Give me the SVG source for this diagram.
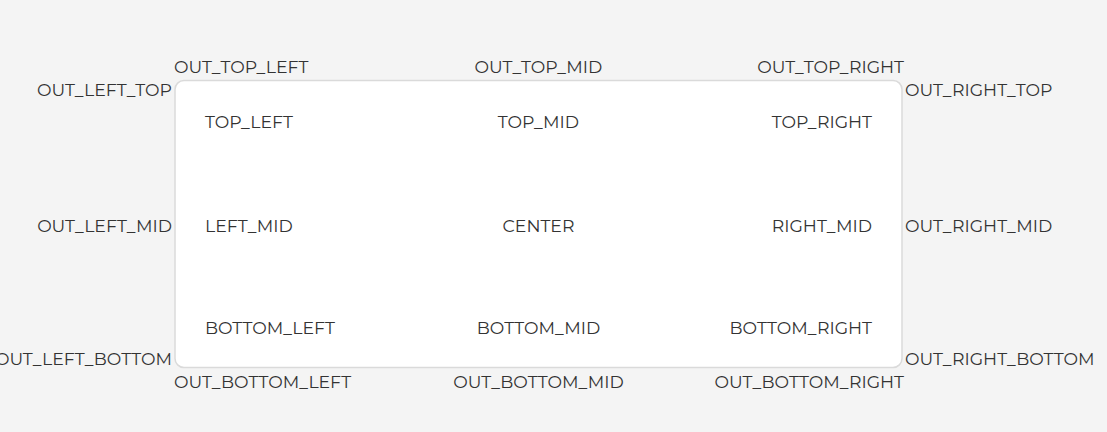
<svg xmlns="http://www.w3.org/2000/svg" width="1107" height="432" viewBox="0 0 1107 432">
<style>
text{font-family:"Montserrat","DejaVu Sans",sans-serif;font-size:17.3px;fill:#333}
.s{text-anchor:start}.m{text-anchor:middle}.e{text-anchor:end}
</style>
<rect width="1107" height="432" fill="#f4f4f4"/>
<g id="container">
<rect x="175" y="80.5" width="727" height="287" rx="9" fill="#fff" stroke="#dadada" stroke-width="1.5"/>
</g>
<g id="connectors"></g>
<g id="inside">
<text id="TOP_LEFT" class="s" x="205" y="128">TOP_LEFT</text>
<text id="TOP_MID" class="m" x="538.5" y="128">TOP_MID</text>
<text id="TOP_RIGHT" class="e" x="872" y="128">TOP_RIGHT</text>
<text id="LEFT_MID" class="s" x="205" y="231.5">LEFT_MID</text>
<text id="CENTER" class="m" x="538.5" y="231.5">CENTER</text>
<text id="RIGHT_MID" class="e" x="872" y="231.5">RIGHT_MID</text>
<text id="BOTTOM_LEFT" class="s" x="205" y="334">BOTTOM_LEFT</text>
<text id="BOTTOM_MID" class="m" x="538.5" y="334">BOTTOM_MID</text>
<text id="BOTTOM_RIGHT" class="e" x="872" y="334">BOTTOM_RIGHT</text>
</g>
<g id="outside">
<text id="OUT_TOP_LEFT" class="s" x="174" y="73">OUT_TOP_LEFT</text>
<text id="OUT_TOP_MID" class="m" x="538.5" y="73">OUT_TOP_MID</text>
<text id="OUT_TOP_RIGHT" class="e" x="904" y="73">OUT_TOP_RIGHT</text>
<text id="OUT_LEFT_TOP" class="e" x="172" y="95.5">OUT_LEFT_TOP</text>
<text id="OUT_LEFT_MID" class="e" x="172" y="231.5">OUT_LEFT_MID</text>
<text id="OUT_LEFT_BOTTOM" class="e" x="172" y="365">OUT_LEFT_BOTTOM</text>
<text id="OUT_RIGHT_TOP" class="s" x="905" y="95.5">OUT_RIGHT_TOP</text>
<text id="OUT_RIGHT_MID" class="s" x="905" y="231.5">OUT_RIGHT_MID</text>
<text id="OUT_RIGHT_BOTTOM" class="s" x="905" y="365">OUT_RIGHT_BOTTOM</text>
<text id="OUT_BOTTOM_LEFT" class="s" x="174" y="388">OUT_BOTTOM_LEFT</text>
<text id="OUT_BOTTOM_MID" class="m" x="538.5" y="388">OUT_BOTTOM_MID</text>
<text id="OUT_BOTTOM_RIGHT" class="e" x="904" y="388">OUT_BOTTOM_RIGHT</text>
</g>
</svg>
